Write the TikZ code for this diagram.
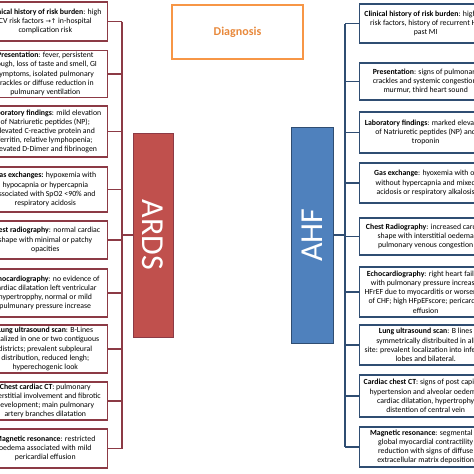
\documentclass[tikz,border=0pt]{standalone}
\usepackage{fontspec}
\setmainfont{Carlito}
\newfontfamily\arrowfont{DejaVu Sans}
\usetikzlibrary{positioning}
\definecolor{ardsred}{HTML}{C0504D}
\definecolor{ardsline}{HTML}{8C3A45}
\definecolor{ahfblue}{HTML}{4F81BD}
\definecolor{ahfline}{HTML}{2F4D72}
\definecolor{diagorange}{HTML}{F79646}
\definecolor{diagtext}{HTML}{E8893C}

\begin{document}
\begin{tikzpicture}[x=1pt,y=-1pt,
    cell/.style={draw, fill=white, line width=1.4pt, align=center, inner sep=2pt,
      font=\fontsize{7.8}{9.2}\selectfont, text=black},
    ardscell/.style={cell, draw=ardsline, anchor=east, minimum width=124pt, minimum height=#1},
    ahfcell/.style={cell, draw=ahfline, anchor=west, minimum width=132pt, minimum height=#1},
    bigbar/.style={draw, line width=0.8pt, inner sep=0pt},
    bigword/.style={text=white, font=\fontsize{32}{32}\selectfont},
    ardswire/.style={draw=ardsline, line width=1.3pt},
    ahfwire/.style={draw=ahfline, line width=1.3pt}]
  \useasboundingbox (0,0) rectangle (474,474);
  \clip (0,0) rectangle (474,474);

  % title
  \node[draw=diagorange, line width=1.2pt, minimum width=131pt, minimum height=54pt,
    text=diagtext, font=\fontsize{12}{12}\selectfont\bfseries] (diag) at (237.5,32) {Diagnosis};

  % the two conditions
  \node[bigbar, fill=ardsred, draw=ardsline, minimum width=40pt, minimum height=204pt] (ards) at (153,235) {};
  \node[bigword, rotate=-90] (ardsword) at (ards.center) {ARDS};
  \node[bigbar, fill=ahfblue, draw=ahfline, minimum width=42pt, minimum height=216pt] (ahf) at (312,235) {};
  \node[bigword, rotate=90] (ahfword) at (ahf.center) {AHF};

  % ARDS findings
  \node[ardscell=39pt] (l1) at (108,21.5) {\textbf{Clinical history of risk burden}: high\\CV risk factors {\arrowfont\fontsize{6.5}{8}\selectfont →↑} in-hospital\\complication risk};
  \node[ardscell=46pt] (l2) at (108,74) {\textbf{Presentation}: fever, persistent\\cough, loss of taste and smell, GI\\symptoms, isolated pulmonary\\crackles or diffuse reduction in\\pulmunary ventilation};
  \node[ardscell=51pt] (l3) at (108,131.5) {\textbf{Laboratory findings}: mild elevation\\of Natriuretic peptides (NP);\\elevated C-reactive protein and\\ferritin, relative lymphopenia;\\elevated D-Dimer and fibrinogen};
  \node[ardscell=45pt] (l4) at (108,189.5) {\textbf{Gas exchanges:} hypoxemia with\\hypocapnia or hypercapnia\\associated with SpO2 <90\% and\\respiratory acidosis};
  \node[ardscell=38pt] (l5) at (108,240) {\textbf{Chest radiography}: normal cardiac\\shape with minimal or patchy\\opacities};
  \node[ardscell=48pt] (l6) at (108,293) {\textbf{Echocardiography}: no evidence of\\cardiac dilatation left ventricular\\hypertropphy, normal or mild\\pulmunary pressure increase};
  \node[ardscell=46pt] (l7) at (108,349) {\textbf{Lung ultrasound scan}: B-Lines\\localized in one or two contiguous\\districts; prevalent subpleural\\distribution, reduced lengh;\\hyperechogenic look};
  \node[ardscell=38pt] (l8) at (108,401) {\textbf{Chest cardiac CT}: pulmonary\\interstitial involvement and fibrotic\\development; main pulmonary\\artery branches dilatation};
  \node[ardscell=39pt] (l9) at (108,448.5) {\textbf{Magnetic resonance}: restricted\\oedema associated with mild\\pericardial effusion};

  % AHF findings
  \node[ahfcell=39pt] (r1) at (359,23.5) {\textbf{Clinical history of risk burden}: high CV\\risk factors, history of recurrent HF,\\past MI};
  \node[ahfcell=37pt] (r2) at (359,81.5) {\textbf{Presentation}: signs of pulmonary\\crackles and systemic congestion,\\murmur, third heart sound};
  \node[ahfcell=41pt] (r3) at (359,132.5) {\textbf{Laboratory findings}: marked elevation\\of Natriuretic peptides (NP) and\\troponin};
  \node[ahfcell=40pt] (r4) at (359,183) {\textbf{Gas exchange}: hyoxemia with or\\without hypercapnia and mixed\\acidosis or respiratory alkalosis};
  \node[ahfcell=37pt] (r5) at (359,236.5) {\textbf{Chest Radiography}: increased cardiac\\shape with interstitial oedema\\pulmonary venous congestion};
  \node[ahfcell=50pt] (r6) at (359,292) {\textbf{Echocardiography}: right heart failure\\with pulmonary pressure increase,\\HFrEF due to myocarditis or worsening\\of CHF; high HFpEFscore; pericardial\\effusion};
  \node[ahfcell=40pt] (r7) at (359,345) {\textbf{Lung ultrasound scan}: B lines\\symmetrically distribuited in all\\site: prevalent localization into inferior\\lobes and bilateral.};
  \node[ahfcell=42pt] (r8) at (359,396) {\textbf{Cardiac chest CT}: signs of post capillary\\hypertension and alveolar oedema,\\cardiac dilatation, hypertrophy\\distention of central vein};
  \node[ahfcell=40pt] (r9) at (359,447) {\textbf{Magnetic resonance}: segmental or\\global myocardial contractility\\reduction with signs of diffuse\\extracellular matrix deposition};

  % buses
  \coordinate (lbus) at (122,235);
  \coordinate (rbus) at (345,235);

  \path[ardswire]
    (l1.east -| lbus) -- (l9.east -| lbus)
    (lbus) -- (ards.west)
    (l1.east) -- (l1.east -| lbus)
    (l2.east) -- (l2.east -| lbus)
    (l3.east) -- (l3.east -| lbus)
    (l4.east) -- (l4.east -| lbus)
    (l5.east) -- (l5.east -| lbus)
    (l6.east) -- (l6.east -| lbus)
    (l7.east) -- (l7.east -| lbus)
    (l8.east) -- (l8.east -| lbus)
    (l9.east) -- (l9.east -| lbus);

  \path[ahfwire]
    (r1.west -| rbus) -- (r9.west -| rbus)
    (ahf.east) -- (rbus)
    (r1.west) -- (r1.west -| rbus)
    (r2.west) -- (r2.west -| rbus)
    (r3.west) -- (r3.west -| rbus)
    (r4.west) -- (r4.west -| rbus)
    (r5.west) -- (r5.west -| rbus)
    (r6.west) -- (r6.west -| rbus)
    (r7.west) -- (r7.west -| rbus)
    (r8.west) -- (r8.west -| rbus)
    (r9.west) -- (r9.west -| rbus);
\end{tikzpicture}
\end{document}
